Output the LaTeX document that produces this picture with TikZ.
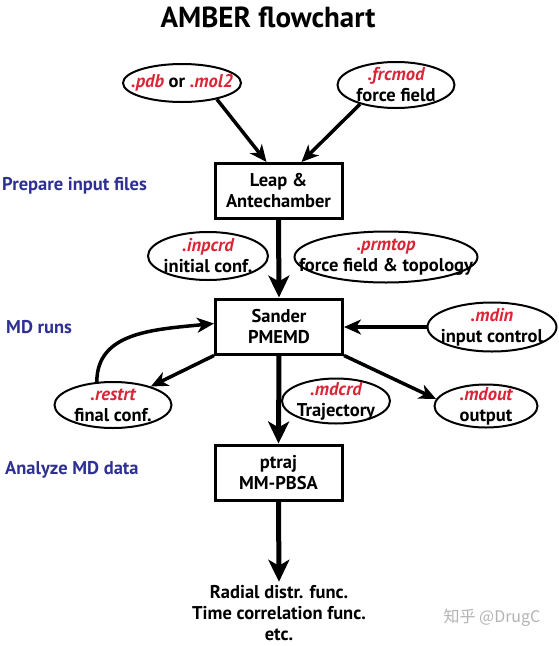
\documentclass[tikz,border=0pt]{standalone}
\usepackage{fontspec}
\setmainfont{PT Sans}
\newfontfamily\zhfont{Noto Sans CJK SC}
\usetikzlibrary{arrows.meta,shapes.geometric}
\definecolor{extred}{RGB}{218,37,54}
\definecolor{stagenavy}{RGB}{46,49,146}
\newcommand{\ext}[1]{\textcolor{extred}{\itshape #1}}

\begin{document}
\begin{tikzpicture}[x=1pt,y=-1pt,
	txt/.style={align=center,font=\fontsize{18.5}{21}\selectfont\bfseries},
	prog/.style={txt,draw,line width=3pt,minimum width=127pt,minimum height=55pt,inner sep=0pt},
	file/.style={draw,ellipse,line width=2pt,inner sep=0pt},
	stage/.style={anchor=west,inner sep=0pt,text=stagenavy,font=\fontsize{18.5}{20}\selectfont\bfseries},
	flow/.style={line width=3.5pt,-{Stealth[length=17pt,width=15pt,inset=5pt]}},
	mainflow/.style={line width=5pt,-{Stealth[length=22pt,width=21pt,inset=6pt]}}]
	\useasboundingbox (0,0) rectangle (559,646);
	% title and stage labels
	\node[font=\fontsize{29}{32}\selectfont\bfseries] (title) at (268,17) {AMBER flowchart};
	\node[stage] (prep) at (2,186) {Prepare input files};
	\node[stage] (mdruns) at (6,327) {MD runs};
	\node[stage] (analyze) at (5,470) {Analyze MD data};
	% programs
	\node[prog] (leap) at (278.5,191) {Leap \&\\Antechamber};
	\node[prog] (sander) at (279,326.5) {Sander\\PMEMD};
	\node[prog] (ptraj) at (278.5,472.5) {ptraj\\MM-PBSA};
	% files
	\node[file,minimum width=118pt,minimum height=38pt] (pdb) at (182,83) {};
	\node[txt] (pdbtext) at (pdb) {\ext{.pdb} or \ext{.mol2}};
	\node[file,minimum width=117pt,minimum height=46pt] (frcmod) at (396,85) {};
	\node[txt] (frcmodtext) at (frcmod) {\ext{.frcmod}\\force field};
	\node[file,minimum width=120pt,minimum height=48pt] (inpcrd) at (208,256) {};
	\node[txt] (inpcrdtext) at (inpcrd) {\ext{.inpcrd}\\initial conf.};
	\node[file,minimum width=183pt,minimum height=51pt] (prmtop) at (386,257) {};
	\node[txt] (prmtoptext) at (prmtop) {\ext{.prmtop}\\force field \& topology};
	\node[file,minimum width=129pt,minimum height=49pt] (mdin) at (492,327) {};
	\node[txt] (mdintext) at (mdin) {\ext{.mdin}\\input control};
	\node[file,minimum width=117pt,minimum height=46pt] (restrt) at (113,405) {};
	\node[txt] (restrttext) at (restrt) {\ext{.restrt}\\final conf.};
	\node[file,minimum width=108pt,minimum height=45pt] (mdcrd) at (336,401) {};
	\node[txt] (mdcrdtext) at (mdcrd) {\ext{.mdcrd}\\Trajectory};
	\node[file,minimum width=103pt,minimum height=43pt] (mdout) at (486,406) {};
	\node[txt] (mdouttext) at (mdout) {\ext{.mdout}\\output};
	% results
	\node[txt] (results) at (279,613) {Radial distr. func.\\Time correlation func.\\etc.};
	\node[font=\zhfont\fontsize{16}{16}\selectfont,text=gray!60] (mark) at (492,618) {知乎 @DrugC};
	% connectors
	\draw[flow] (pdb.-25) -- ([xshift=-12pt]leap.north);
	\draw[flow] (frcmod.-152) -- ([xshift=23pt]leap.north);
	\draw[mainflow] (leap.south) -- (sander.north);
	\draw[flow] (mdin.west) -- (mdin.west -| sander.east);
	\draw[flow] (restrt.125) .. controls +(0,-50) and +(-60,6) .. ([yshift=3pt]sander.west);
	\draw[flow] (sander.south west) -- (restrt);
	\draw[mainflow] (sander.south) -- (ptraj.north);
	\draw[flow] (sander.south east) -- (mdout.172);
	\draw[mainflow] (ptraj.south) -- (results.north);
\end{tikzpicture}
\end{document}
